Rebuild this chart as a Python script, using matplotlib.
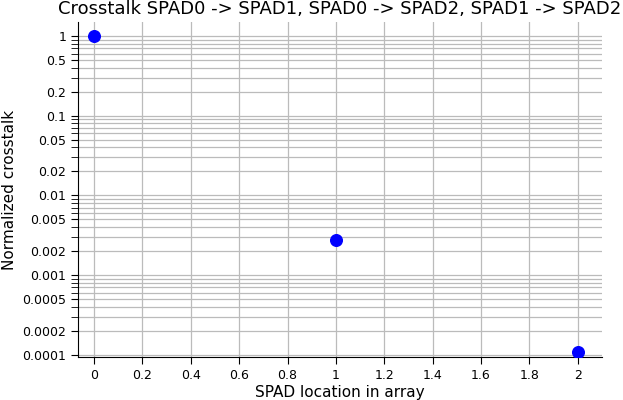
import matplotlib
matplotlib.use("Agg")
import matplotlib.pyplot as plt
from matplotlib.ticker import FixedLocator, FixedFormatter, LogLocator, NullFormatter

x = [0, 1, 2]
y = [1.0, 0.0028, 0.000108]
ytick_vals = [1, 0.5, 0.2, 0.1, 0.05, 0.02, 0.01, 0.005, 0.002, 0.001, 0.0005, 0.0002, 0.0001]
ytick_labels = ["1", "0.5", "0.2", "0.1", "0.05", "0.02", "0.01", "0.005", "0.002", "0.001", "0.0005", "0.0002", "0.0001"]
xtick_vals = [0, 0.2, 0.4, 0.6, 0.8, 1, 1.2, 1.4, 1.6, 1.8, 2]
xtick_labels = ["0", "0.2", "0.4", "0.6", "0.8", "1", "1.2", "1.4", "1.6", "1.8", "2"]

fig = plt.figure(figsize=(6.23, 4.0), dpi=100)
ax = fig.add_axes([78/623, 43/400, 524/623, 335/400])
ax.set_yscale("log")
ax.set_xlim(-0.066, 2.1)
ax.set_ylim(0.000094, 1.5)
ax.scatter(x, y, s=70, marker="o", color="#0000ff", zorder=3)

ax.yaxis.set_major_locator(FixedLocator(ytick_vals))
ax.yaxis.set_major_formatter(FixedFormatter(ytick_labels))
ax.yaxis.set_minor_locator(LogLocator(base=10, subs=range(1, 10)))
ax.yaxis.set_minor_formatter(NullFormatter())
ax.set_xticks(xtick_vals)
ax.set_xticklabels(xtick_labels)

ax.grid(True, which="both", axis="y", color="#bbbbbb", lw=0.9)
ax.grid(True, which="major", axis="x", color="#bbbbbb", lw=0.9)
ax.set_axisbelow(True)
for s in ["top", "right"]:
    ax.spines[s].set_visible(False)
ax.tick_params(axis="both", which="major", direction="out", length=5, labelsize=9)
ax.tick_params(axis="y", which="minor", direction="out", length=5)
ax.set_title("Crosstalk SPAD0 -> SPAD1, SPAD0 -> SPAD2, SPAD1 -> SPAD2", fontsize=13, pad=6)
ax.set_xlabel("SPAD location in array", fontsize=11, labelpad=2)
ax.set_ylabel("Normalized crosstalk", fontsize=11)
fig.savefig("out.png", dpi=100)
